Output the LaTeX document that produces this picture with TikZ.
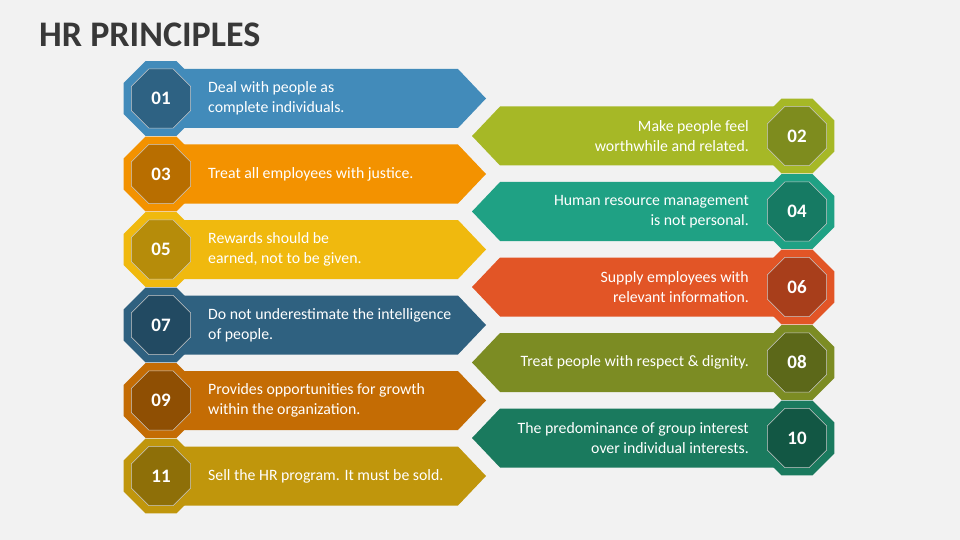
\documentclass[tikz,border=0pt]{standalone}
\usepackage{fontspec}
\setmainfont{Carlito}
\usetikzlibrary{shapes.geometric}
\definecolor{bg}{HTML}{F2F2F2}
\definecolor{cA}{HTML}{428BBA}\definecolor{dA}{HTML}{2E6283}
\definecolor{cB}{HTML}{A6B826}\definecolor{dB}{HTML}{7E8C1E}
\definecolor{cC}{HTML}{F39200}\definecolor{dC}{HTML}{B86E00}
\definecolor{cD}{HTML}{1FA184}\definecolor{dD}{HTML}{167A63}
\definecolor{cE}{HTML}{F0B90E}\definecolor{dE}{HTML}{B68C0A}
\definecolor{cF}{HTML}{E25526}\definecolor{dF}{HTML}{A83E1B}
\definecolor{cG}{HTML}{2F6180}\definecolor{dG}{HTML}{224A62}
\definecolor{cH}{HTML}{7C8C23}\definecolor{dH}{HTML}{5C6819}
\definecolor{cI}{HTML}{C46C04}\definecolor{dI}{HTML}{8F4F03}
\definecolor{cJ}{HTML}{1A7A5E}\definecolor{dJ}{HTML}{125744}
\definecolor{cK}{HTML}{C0960C}\definecolor{dK}{HTML}{8E6F08}
\tikzset{
 outer/.style={regular polygon,regular polygon sides=8,minimum size=81pt,inner sep=0pt,fill=#1},
 inner/.style={regular polygon,regular polygon sides=8,minimum size=64pt,inner sep=0pt,fill=#1,draw=black!20,line width=0.5pt,text=white,font=\bfseries\fontsize{19}{19}\selectfont},
 ltxt/.style={anchor=west,inner sep=2pt,text=white,align=left,font=\fontsize{15.8}{20}\selectfont},
 rtxt/.style={anchor=east,inner sep=2pt,text=white,align=right,font=\fontsize{15.8}{20}\selectfont},
}
\newcommand{\leftitem}[5]{% y, color, dark, num, text
 \fill[#2] (180,#1-29.5) -- (458,#1-29.5) -- (486,#1) -- (458,#1+29.5) -- (180,#1+29.5) -- cycle;
 \node[outer=#2] (o#4) at (161,#1) {};
 \node[inner=#3] (n#4) at (161,#1) {#4};
 \node[ltxt] (t#4) at (206,#1) {#5};
}
\newcommand{\rightitem}[5]{%
 \fill[#2] (780,#1-29.5) -- (500,#1-29.5) -- (472,#1) -- (500,#1+29.5) -- (780,#1+29.5) -- cycle;
 \node[outer=#2] (o#4) at (797,#1) {};
 \node[inner=#3] (n#4) at (797,#1) {#4};
 \node[rtxt] (t#4) at (751,#1) {#5};
}
\begin{document}
\begin{tikzpicture}[x=1pt,y=-1pt]
\fill[bg] (0,0) rectangle (960,540);
\useasboundingbox (0,0) rectangle (960,540);
\node[anchor=west,inner sep=0pt,text=black!78,font=\bfseries\fontsize{36}{36}\selectfont] (title) at (39,35) {HR PRINCIPLES};
\leftitem{98.5}{cA}{dA}{01}{Deal with people as\\complete individuals.}
\leftitem{174}{cC}{dC}{03}{Treat all employees with justice.}
\leftitem{249.5}{cE}{dE}{05}{Rewards should be\\earned, not to be given.}
\leftitem{325}{cG}{dG}{07}{Do not underestimate the intelligence\\of people.}
\leftitem{400.5}{cI}{dI}{09}{Provides opportunities for growth\\within the organization.}
\leftitem{476}{cK}{dK}{11}{Sell the HR program. It must be sold.}
\rightitem{136}{cB}{dB}{02}{Make people feel\\worthwhile and related.}
\rightitem{211.5}{cD}{dD}{04}{Human resource management\\is not personal.}
\rightitem{287}{cF}{dF}{06}{Supply employees with\\relevant information.}
\rightitem{362.5}{cH}{dH}{08}{Treat people with respect \& dignity.}
\rightitem{438}{cJ}{dJ}{10}{The predominance of group interest\\over individual interests.}
\end{tikzpicture}
\end{document}
